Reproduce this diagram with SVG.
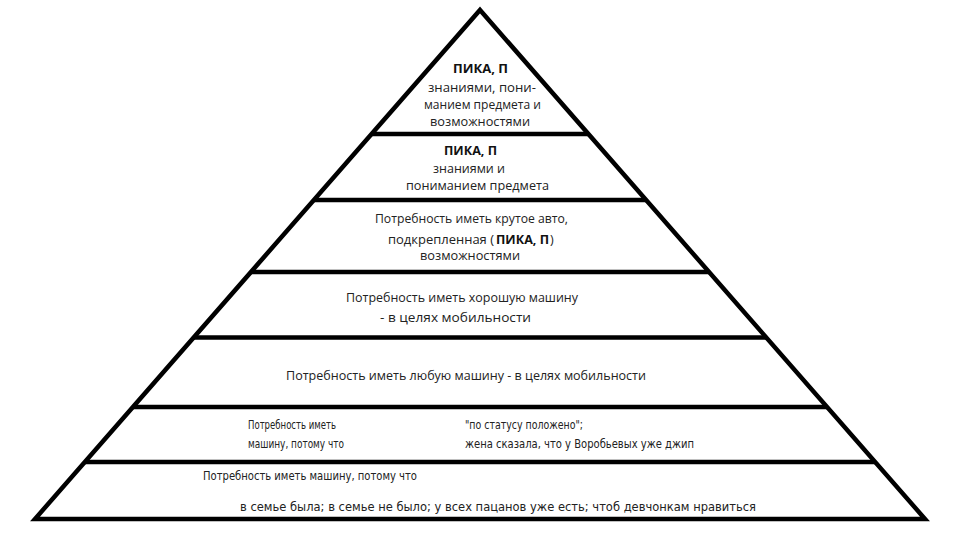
<svg xmlns="http://www.w3.org/2000/svg" width="960" height="538" viewBox="0 0 960 538">
<style>
.ln{stroke:#000;stroke-width:4.5;fill:none;stroke-linecap:butt}
.t{font-family:"Open Sans","Liberation Sans",sans-serif;font-size:12.5px;fill:#222}
.b{font-weight:bold;fill:#111}
.c{font-family:"DejaVu Sans Condensed","Liberation Sans",sans-serif;font-size:12.5px;fill:#222}
</style>
<rect width="960" height="538" fill="#fff"/>
<g id="connectors">
<polygon class="ln" points="480,10 925,519 35,519" stroke-linejoin="miter"/>
<line class="ln" x1="371.6" y1="134" x2="588.4" y2="134"/>
<line class="ln" x1="313.9" y1="200" x2="646.1" y2="200"/>
<line class="ln" x1="251" y1="272" x2="709" y2="272"/>
<line class="ln" x1="193.8" y1="337.5" x2="766.2" y2="337.5"/>
<line class="ln" x1="133" y1="407" x2="827" y2="407"/>
<line class="ln" x1="85" y1="462" x2="875" y2="462"/>
</g>
<g id="tier1">
<text class="t b" x="453" y="73" textLength="55" lengthAdjust="spacingAndGlyphs">ПИКА, П</text>
<text class="t" x="428" y="92" textLength="108" lengthAdjust="spacingAndGlyphs">знаниями, пони-</text>
<text class="t" x="424" y="109" textLength="117" lengthAdjust="spacingAndGlyphs">манием предмета и</text>
<text class="t" x="430" y="126" textLength="100" lengthAdjust="spacingAndGlyphs">возможностями</text>
</g>
<g id="tier2">
<text class="t b" x="444" y="155" textLength="53" lengthAdjust="spacingAndGlyphs">ПИКА, П</text>
<text class="t" x="433" y="173" textLength="72" lengthAdjust="spacingAndGlyphs">знаниями и</text>
<text class="t" x="406" y="190" textLength="143" lengthAdjust="spacingAndGlyphs">пониманием предмета</text>
</g>
<g id="tier3">
<text class="t" x="375" y="223" textLength="193" lengthAdjust="spacingAndGlyphs">Потребность иметь крутое авто,</text>
<text class="t" x="388" y="244" textLength="106" lengthAdjust="spacingAndGlyphs">подкрепленная (</text>
<text class="t b" x="496" y="244" textLength="53" lengthAdjust="spacingAndGlyphs">ПИКА, П</text>
<text class="t" x="550" y="244">)</text>
<text class="t" x="420" y="260" textLength="100" lengthAdjust="spacingAndGlyphs">возможностями</text>
</g>
<g id="tier4">
<text class="t" x="346" y="302" textLength="232" lengthAdjust="spacingAndGlyphs">Потребность иметь хорошую машину</text>
<text class="t" x="380" y="322" textLength="151" lengthAdjust="spacingAndGlyphs">- в целях мобильности</text>
</g>
<g id="tier5">
<text class="t" x="286" y="380" textLength="360" lengthAdjust="spacingAndGlyphs">Потребность иметь любую машину - в целях мобильности</text>
</g>
<g id="tier6">
<text class="c" x="248" y="429" textLength="88" lengthAdjust="spacingAndGlyphs">Потребность иметь</text>
<text class="c" x="248" y="448" textLength="96" lengthAdjust="spacingAndGlyphs">машину, потому что</text>
<text class="c" x="465" y="429" textLength="118" lengthAdjust="spacingAndGlyphs">"по статусу положено";</text>
<text class="c" x="465" y="448" textLength="229" lengthAdjust="spacingAndGlyphs">жена сказала, что у Воробьевых уже джип</text>
</g>
<g id="tier7">
<text class="c" x="203" y="480" textLength="214" lengthAdjust="spacingAndGlyphs">Потребность иметь машину, потому что</text>
<text class="c" x="240" y="511" textLength="516" lengthAdjust="spacingAndGlyphs">в семье была; в семье не было; у всех пацанов уже есть; чтоб девчонкам нравиться</text>
</g>
</svg>
